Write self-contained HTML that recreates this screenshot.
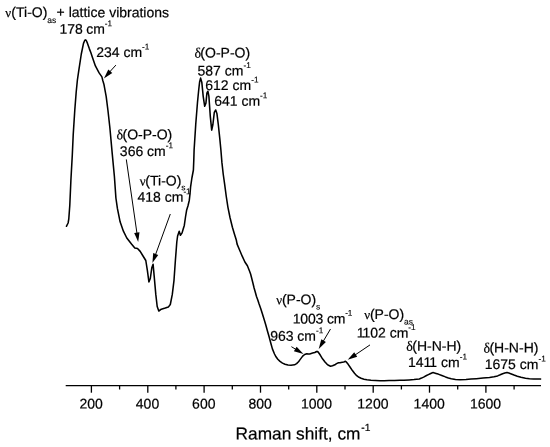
<!DOCTYPE html>
<html><head><meta charset="utf-8"><title>Raman spectrum</title>
<style>
html,body{margin:0;padding:0;background:#fff;}
svg{display:block;}
text{text-rendering:geometricPrecision;fill:#000;stroke:#000;stroke-width:0.2px;}
.t{font-family:"Liberation Sans",sans-serif;font-size:14.0px;}
.g{font-family:"Liberation Serif",serif;}
.s{font-size:8.5px;stroke-width:0.1px;}
.p{font-size:8.2px;stroke-width:0.15px;}
.a{font-family:"Liberation Sans",sans-serif;font-size:17.3px;}
.ap{font-size:10.3px;}
</style></head><body>
<svg width="550" height="447" viewBox="0 0 550 447">
<rect width="550" height="447" fill="#fff"/>
<line x1="65.7" y1="385.6" x2="541" y2="385.6" stroke="#000" stroke-width="1.3"/>
<line x1="91.4" y1="385.6" x2="91.4" y2="392.7" stroke="#000" stroke-width="1.3"/><text x="91.1" y="408.4" transform="rotate(0.05 91.1 408.4)" text-anchor="middle" class="t">200</text>
<line x1="119.6" y1="385.6" x2="119.6" y2="389.5" stroke="#000" stroke-width="1.3"/>
<line x1="147.8" y1="385.6" x2="147.8" y2="392.7" stroke="#000" stroke-width="1.3"/><text x="147.5" y="408.4" transform="rotate(0.05 147.5 408.4)" text-anchor="middle" class="t">400</text>
<line x1="175.9" y1="385.6" x2="175.9" y2="389.5" stroke="#000" stroke-width="1.3"/>
<line x1="204.1" y1="385.6" x2="204.1" y2="392.7" stroke="#000" stroke-width="1.3"/><text x="203.8" y="408.4" transform="rotate(0.05 203.8 408.4)" text-anchor="middle" class="t">600</text>
<line x1="232.3" y1="385.6" x2="232.3" y2="389.5" stroke="#000" stroke-width="1.3"/>
<line x1="260.5" y1="385.6" x2="260.5" y2="392.7" stroke="#000" stroke-width="1.3"/><text x="260.2" y="408.4" transform="rotate(0.05 260.2 408.4)" text-anchor="middle" class="t">800</text>
<line x1="288.7" y1="385.6" x2="288.7" y2="389.5" stroke="#000" stroke-width="1.3"/>
<line x1="316.8" y1="385.6" x2="316.8" y2="392.7" stroke="#000" stroke-width="1.3"/><text x="316.5" y="408.4" transform="rotate(0.05 316.5 408.4)" text-anchor="middle" class="t">1000</text>
<line x1="345.0" y1="385.6" x2="345.0" y2="389.5" stroke="#000" stroke-width="1.3"/>
<line x1="373.2" y1="385.6" x2="373.2" y2="392.7" stroke="#000" stroke-width="1.3"/><text x="372.9" y="408.4" transform="rotate(0.05 372.9 408.4)" text-anchor="middle" class="t">1200</text>
<line x1="401.4" y1="385.6" x2="401.4" y2="389.5" stroke="#000" stroke-width="1.3"/>
<line x1="429.5" y1="385.6" x2="429.5" y2="392.7" stroke="#000" stroke-width="1.3"/><text x="429.2" y="408.4" transform="rotate(0.05 429.2 408.4)" text-anchor="middle" class="t">1400</text>
<line x1="457.7" y1="385.6" x2="457.7" y2="389.5" stroke="#000" stroke-width="1.3"/>
<line x1="485.9" y1="385.6" x2="485.9" y2="392.7" stroke="#000" stroke-width="1.3"/><text x="485.6" y="408.4" transform="rotate(0.05 485.6 408.4)" text-anchor="middle" class="t">1600</text>
<line x1="514.1" y1="385.6" x2="514.1" y2="389.5" stroke="#000" stroke-width="1.3"/>

<polyline fill="none" stroke="#000" stroke-width="1.55" stroke-linejoin="round" stroke-linecap="round" points="66.4,226.3 68.1,223 68.8,218.8 69.8,205.3 70.9,180.2 72.3,155 73.2,135 74.8,110 76.2,92 77.4,80 78.8,70.3 81.3,54 83.5,43.4 84.8,40.2 85.6,39.9 86.4,40.7 87.5,43.4 89.3,48.6 90.9,52.8 92.3,57 95.4,65.9 99.1,72.9 101.9,76.9 102.8,80.5 103.9,84.2 106.2,96.6 107.9,110 109.9,128 112.3,154.4 114.4,176.5 115.9,198 117.4,208.4 120.1,221.8 123.4,231.2 126.8,238 131.5,244 134.8,248 137.5,248.5 140.2,251.4 142.4,255 145.8,260.5 147.4,270.6 148.9,282 150.3,278.5 151.8,267.8 153.1,264.3 154.2,276.4 155.8,294.4 157.2,306.5 158.8,311 161.3,309.2 165.3,308.1 168.3,307.1 170.3,304.5 172.3,294.4 174,280.3 175.4,260.2 176.2,250 176.8,242 177.6,236 179.2,231.3 180.4,235.3 182.1,232.9 183.2,229 184.3,225.4 185.5,217 186.6,210.3 188.0,205.8 189.3,200.2 190.0,194 190.6,186.8 191.9,178 193.4,170 193.8,160 194.1,150 195.8,123.5 197.5,102.3 198.7,90 199.6,82 200.6,78.1 201.8,82.2 203.2,96.3 204.7,106.3 205.9,103.3 206.9,93.2 207.9,91.2 208.9,96.3 210.3,116.4 211.7,130.1 212.9,124.5 214.3,112.4 215.7,110 216.9,113.4 218.3,124.5 219.8,138.6 220.9,150 221.9,162.4 223.2,174 224.7,184.7 226.2,196 227.9,207.1 230,217.5 232.4,227.2 234.4,234 236.3,240 237.1,244.1 240,251 242.2,256.2 244.9,262 247.4,265.8 249.3,270.5 250.6,274 251.7,278.2 252.9,283 254.1,288 255.4,292.5 256.5,296.5 257.8,300 259.1,304 260.7,308.4 262.3,313.5 264,319 265.8,325 267.3,330.5 269.1,336.8 270.9,343.5 272.4,348.9 274.5,354 276,356.8 277.8,359.3 280,361.4 282.5,363.1 285,364.3 288,365 291,365.2 294.5,364.8 296.6,363.6 298,362.2 299.5,360.4 301,358.4 302.5,356.4 303.6,355.3 304.6,354.5 306.8,353.8 308.3,354.1 309.7,354 311.2,353.5 312.6,353.1 314.8,352.5 316.6,351.5 317.4,351.5 318.1,352 319,353.2 319.9,354.5 321,356.3 322.1,358.2 323.3,359.7 325,362 326.9,364.1 328.5,365.3 330.5,366.2 332.5,365.8 334.9,364.8 336.5,363.6 338.5,362.7 340,362.8 342.2,362.3 343.8,361.9 345.4,361.3 346.5,362.2 348,364.1 350,367 352.4,370.6 354.5,373.3 356.7,375.7 359,377.3 361.1,378.3 364,379.2 366.9,379.8 371,380.2 375.6,380.5 380,380.7 384.3,380.8 389,380.5 394.5,380.6 400,380.2 404,380.3 409.1,379.9 414,379.5 419.3,378.9 421.5,378.1 423.6,377.1 426.5,375.5 428.4,374.6 430.2,373.7 431.8,373 433.1,372.6 434.5,372.9 436,373.4 438.2,374.1 441.8,375.5 445.5,376.9 448.4,377.9 451.3,378.7 455.5,379.4 460,379.8 466,379.5 471,379.1 476.4,378.7 483,378.1 489.5,377.5 494,376.8 497.6,375.9 500.2,374.8 502.6,373.7 504.8,373 507,372.6 508.8,373 510.7,373.7 514,375 517.3,376.2 521,377.3 525.5,378.2 529.5,378.7 533.6,379 540.6,379.1"/>
<line x1="115.9" y1="65.1" x2="109.6" y2="72.0" stroke="#000" stroke-width="1"/><polygon points="103.9,78.4 108.3,69.5 112.3,73.1" fill="#000"/>
<line x1="126.3" y1="159.4" x2="137.0" y2="233.6" stroke="#000" stroke-width="1"/><polygon points="138.2,242.1 134.2,233.0 139.5,232.2" fill="#000"/>
<line x1="170.3" y1="214" x2="155.4" y2="255.0" stroke="#000" stroke-width="1"/><polygon points="152.4,263.1 153.2,253.1 158.2,254.9" fill="#000"/>
<line x1="291.4" y1="346.7" x2="296.1" y2="349.5" stroke="#000" stroke-width="1"/><polygon points="303.5,353.9 293.9,351.3 296.6,346.7" fill="#000"/>
<line x1="330.5" y1="329.0" x2="323.1" y2="341.5" stroke="#000" stroke-width="1"/><polygon points="318.7,348.9 321.3,339.3 325.9,342.0" fill="#000"/>
<line x1="370.0" y1="344.9" x2="354.9" y2="355.1" stroke="#000" stroke-width="1"/><polygon points="347.7,359.8 354.2,352.3 357.2,356.7" fill="#000"/>

<text x="5.17" y="17.1" transform="rotate(0.05 5.17 17.1)" class="g" style="font-size:13.0px">ν</text><text x="11.33" y="17.1" transform="rotate(0.05 11.33 17.1)" class="t">(Ti-O)<tspan class="s" dy="5.8" dx="-0.2">as</tspan></text>
<text x="56.62" y="17.1" transform="rotate(0.05 56.62 17.1)" class="t">+ lattice vibrations</text>
<text x="59.53" y="33.8" transform="rotate(0.05 59.53 33.8)" class="t" letter-spacing="-0.1">178 cm<tspan class="p" dy="-7.6" dx="0">-1</tspan></text>
<text x="96.20" y="57.1" transform="rotate(0.05 96.20 57.1)" class="t">234 cm<tspan class="p" dy="-7.6" dx="0">-1</tspan></text>
<text x="194.47" y="57.5" transform="rotate(0.05 194.47 57.5)" class="g" style="font-size:14.0px">δ</text><text x="200.33" y="57.5" transform="rotate(0.05 200.33 57.5)" class="t">(O-P-O)</text>
<text x="197.54" y="75.5" transform="rotate(0.05 197.54 75.5)" class="t">587 cm<tspan class="p" dy="-7.6" dx="0">-1</tspan></text>
<text x="205.29" y="90.1" transform="rotate(0.05 205.29 90.1)" class="t">612 cm<tspan class="p" dy="-7.6" dx="0">-1</tspan></text>
<text x="214.19" y="105.7" transform="rotate(0.05 214.19 105.7)" class="t">641 cm<tspan class="p" dy="-7.6" dx="0">-1</tspan></text>
<text x="116.57" y="139.3" transform="rotate(0.05 116.57 139.3)" class="g" style="font-size:14.0px">δ</text><text x="122.53" y="139.3" transform="rotate(0.05 122.53 139.3)" class="t">(O-P-O)</text>
<text x="119.87" y="155.9" transform="rotate(0.05 119.87 155.9)" class="t">366 cm<tspan class="p" dy="-7.6" dx="0">-1</tspan></text>
<text x="139.67" y="185.4" transform="rotate(0.05 139.67 185.4)" class="g" style="font-size:13.0px">ν</text><text x="145.33" y="185.4" transform="rotate(0.05 145.33 185.4)" class="t">(Ti-O)<tspan class="s" dy="4.8" dx="-0.2">s</tspan></text>
<text x="137.48" y="201.8" transform="rotate(0.05 137.48 201.8)" class="t">418 cm<tspan class="p" dy="-7.6" dx="0">-1</tspan></text>
<text x="276.37" y="304.3" transform="rotate(0.05 276.37 304.3)" class="g" style="font-size:13.0px">ν</text><text x="281.93" y="304.3" transform="rotate(0.05 281.93 304.3)" class="t">(P-O)<tspan class="s" dy="5.1" dx="-0.2">s</tspan></text>
<text x="292.63" y="323.4" transform="rotate(0.05 292.63 323.4)" class="t" letter-spacing="-0.15">1003 cm<tspan class="p" dy="-7.6" dx="0">-1</tspan></text>
<text x="270.14" y="340.8" transform="rotate(0.05 270.14 340.8)" class="t">963 cm<tspan class="p" dy="-7.6" dx="0">-1</tspan></text>
<text x="364.27" y="318.9" transform="rotate(0.05 364.27 318.9)" class="g" style="font-size:13.0px">ν</text><text x="369.93" y="318.9" transform="rotate(0.05 369.93 318.9)" class="t">(P-O)<tspan class="s" dy="5.6" dx="-0.2">as</tspan></text>
<text x="356.63" y="337.6" transform="rotate(0.05 356.63 337.6)" class="t">1<tspan dx="-1">1</tspan>02 cm<tspan class="p" dy="-7.6" dx="0">-1</tspan></text>
<text x="406.37" y="350.8" transform="rotate(0.05 406.37 350.8)" class="g" style="font-size:14.0px">δ</text><text x="412.23" y="350.8" transform="rotate(0.05 412.23 350.8)" class="t">(H-N-H)</text>
<text x="408.03" y="367.1" transform="rotate(0.05 408.03 367.1)" class="t">141<tspan dx="-1">1</tspan> cm<tspan class="p" dy="-7.6" dx="0">-1</tspan></text>
<text x="483.47" y="352.5" transform="rotate(0.05 483.47 352.5)" class="g" style="font-size:14.0px">δ</text><text x="489.43" y="352.5" transform="rotate(0.05 489.43 352.5)" class="t">(H-N-H)</text>
<text x="484.73" y="369.1" transform="rotate(0.05 484.73 369.1)" class="t">1675 cm<tspan class="p" dy="-7.6" dx="0">-1</tspan></text>
<text x="235.59" y="439.5" transform="rotate(0.05 235.59 439.5)" class="a">Raman shift, cm<tspan class="ap" dy="-8.6" dx="0.8">-1</tspan></text>

</svg>
</body></html>
